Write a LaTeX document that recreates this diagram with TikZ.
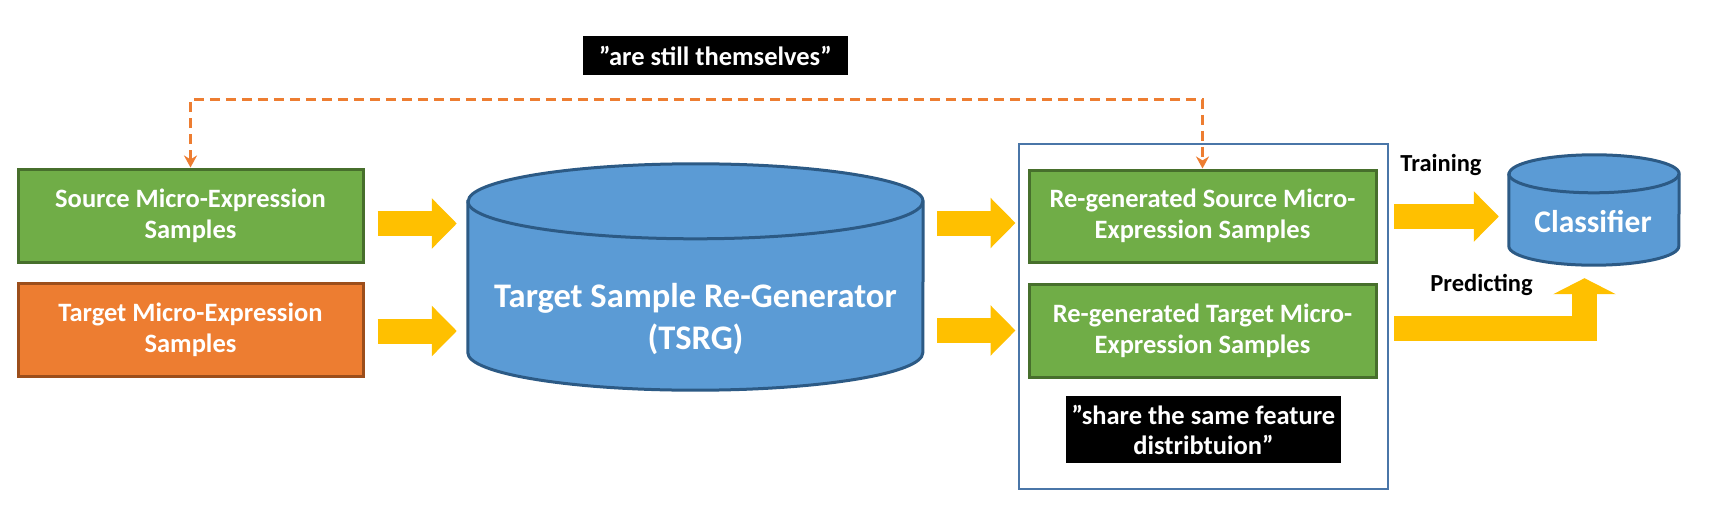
\documentclass[tikz,border=0pt]{standalone}
\usepackage{fontspec}
\setmainfont{Carlito}
\usetikzlibrary{arrows.meta,calc}
\definecolor{mgreen}{HTML}{70AD47}
\definecolor{mgreenB}{HTML}{476F2C}
\definecolor{morange}{HTML}{ED7D31}
\definecolor{morangeB}{HTML}{9C4E1B}
\definecolor{mblue}{HTML}{5B9BD5}
\definecolor{mblueB}{HTML}{2C5A85}
\definecolor{myellow}{HTML}{FFC000}
\definecolor{mframe}{HTML}{4A76A8}
\tikzset{
  sbox/.style={rectangle, minimum width=345pt, minimum height=93pt, line width=3pt,
    text=white, font=\bfseries\fontsize{26.5}{31}\selectfont, align=center, inner sep=0pt},
  greenbox/.style={sbox, fill=mgreen, draw=mgreenB},
  orangebox/.style={sbox, fill=morange, draw=morangeB},
  note/.style={rectangle, fill=black, text=white, inner sep=0pt, align=center,
    font=\bfseries\fontsize{26.5}{30}\selectfont},
  ghost/.style={rectangle, draw=none, inner sep=0pt},
  cylstyle/.style={fill=mblue, draw=mblueB, line width=3pt},
  blockarr/.style={draw=myellow, line width=25pt, line join=miter,
    -{Triangle[length=25pt,width=49pt]}},
  predarr/.style={draw=myellow, line width=25.5pt, line join=miter,
    -{Triangle[length=16pt,width=62pt]}},
  dasharr/.style={draw=morange, line width=3pt, dash pattern=on 10pt off 6pt,
    {Stealth[length=12pt,width=13pt]}-{Stealth[length=12pt,width=13pt]}},
  lbl/.style={text=black, font=\bfseries\fontsize{24.5}{28}\selectfont, inner sep=0pt}
}
\begin{document}
\begin{tikzpicture}[x=1pt,y=-1pt]
\useasboundingbox[fill=white] (0,0) rectangle (1710,516);

% left boxes
\node[greenbox] (src) at (190.5,215.5) {Source Micro-Expression\\Samples};
\node[orangebox] (tgt) at (190.5,330) {Target Micro-Expression\\Samples};

% big cylinder
\node[ghost, minimum width=455pt, minimum height=226pt] (cyl) at (695.5,277) {};
\draw[cylstyle] ($(cyl.north west)+(0,37.5)$) -- ($(cyl.south west)+(0,-37.5)$)
  arc[start angle=180,end angle=360,x radius=227.5pt,y radius=37.5pt]
  -- ($(cyl.north east)+(0,37.5)$)
  arc[start angle=0,end angle=180,x radius=227.5pt,y radius=37.5pt] -- cycle;
\draw[mblueB, line width=3pt] ($(cyl.north west)+(0,37.5)$)
  arc[start angle=180,end angle=360,x radius=227.5pt,y radius=37.5pt];
\node[text=white, font=\bfseries\fontsize{34.5}{42}\selectfont, align=center, inner sep=0pt]
  (cyllabel) at (695.5,319) {Target Sample Re-Generator\\(TSRG)};

% frame and right boxes
\node[ghost, draw=mframe, line width=2.5pt, minimum width=369pt, minimum height=345pt]
  (frame) at (1203.5,316.5) {};
\node[greenbox, minimum width=347pt, minimum height=92pt] (rs) at (1202.5,216)
  {Re-generated Source Micro-\\Expression Samples};
\node[greenbox, minimum width=347pt, minimum height=93pt] (rt) at (1202.5,330.5)
  {Re-generated Target Micro-\\Expression Samples};
\node[note, minimum width=275pt, minimum height=67pt] (note2) at (1203.5,429.5)
  {”share the same feature\\distribtuion”};

% top note
\node[note, minimum width=265pt, minimum height=39pt] (note1) at (715.5,55.5)
  {”are still themselves”};

% classifier cylinder
\node[ghost, minimum width=170pt, minimum height=110pt] (clf) at (1594,210) {};
\draw[cylstyle] ($(clf.north west)+(0,19)$) -- ($(clf.south west)+(0,-19)$)
  arc[start angle=180,end angle=360,x radius=85pt,y radius=19pt]
  -- ($(clf.north east)+(0,19)$)
  arc[start angle=0,end angle=180,x radius=85pt,y radius=19pt] -- cycle;
\draw[mblueB, line width=3pt] ($(clf.north west)+(0,19)$)
  arc[start angle=180,end angle=360,x radius=85pt,y radius=19pt];
\node[text=white, font=\bfseries\fontsize{31.5}{37}\selectfont, inner sep=0pt]
  (clflabel) at (1593,222) {Classifier};

% labels
\node[lbl] (train) at (1441,165) {Training};
\node[lbl] (pred) at (1481.5,285) {Predicting};

% yellow block arrows
\draw[blockarr] ($(src.east)+(13,8)$) -- ($(src.east -| cyl.west)+(-11,8)$);
\draw[blockarr] ($(tgt.east)+(13,1)$) -- ($(tgt.east -| cyl.west)+(-11,1)$);
\draw[blockarr] ($(rs.west -| cyl.east)+(14,7)$) -- ($(rs.west)+(-12,7)$);
\draw[blockarr] ($(rt.west -| cyl.east)+(14,0)$) -- ($(rt.west)+(-12,0)$);
\draw[blockarr] ($(rs.east -| frame.east)+(5,0.5)$) -- ($(rs.east -| clf.west)+(-10,0.5)$);
\draw[predarr] ($(rt.east -| frame.east)+(5,-2)$) -| ($(clf.south)+(-9.5,13)$);

% dashed feedback
\draw[dasharr] (src.north) -- ++(0,-68) -| (rs.north);
\end{tikzpicture}
\end{document}
